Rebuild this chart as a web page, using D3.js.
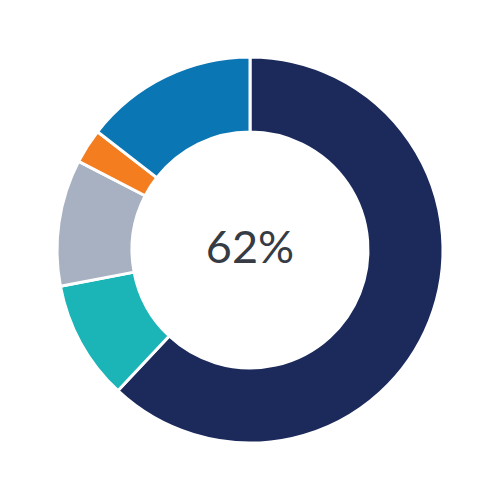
<!DOCTYPE html>
<html>
<head>
<meta charset="utf-8">
<script src="https://cdn.jsdelivr.net/npm/d3@7"></script>
<style>
  body { margin: 0; background: #fff; }
</style>
</head>
<body>
<div id="chart"></div>
<script>
    // slices, clockwise from 12 o'clock
    var categories = ["A", "B", "C", "D", "E"];
    var values = [62, 10, 10.6, 2.9, 14.5];
    var colors = ["#1b2a5b", "#1bb5b7", "#a8b1c2", "#f47d20", "#0b76b4"];
    var centerLabel = "62%";

    var w = 500, h = 500;
    var outerR = 193, innerR = 118;

    var svg = d3.select("#chart")
            .append("svg")
            .attr("width", w)
            .attr("height", h);

    var g = svg.append("g")
            .attr("transform", "translate(" + w / 2 + "," + h / 2 + ")");

    var pie = d3.pie().sort(null).value(function(d) { return d; });
    var arc = d3.arc().innerRadius(innerR).outerRadius(outerR);

    g.selectAll("path")
            .data(pie(values))
            .enter()
            .append("path")
            .attr("d", arc)
            .attr("fill", function(d, i) { return colors[i]; })
            .attr("stroke", "#fff")
            .attr("stroke-width", 3);

    g.append("text")
            .text(centerLabel)
            .attr("x", 0)
            .attr("y", 13)
            .attr("text-anchor", "middle")
            .attr("font-family", "Lato, sans-serif")
            .attr("font-weight", 400)
            .attr("font-size", "45px")
            .attr("fill", "#363b44");
</script>
</body>
</html>
